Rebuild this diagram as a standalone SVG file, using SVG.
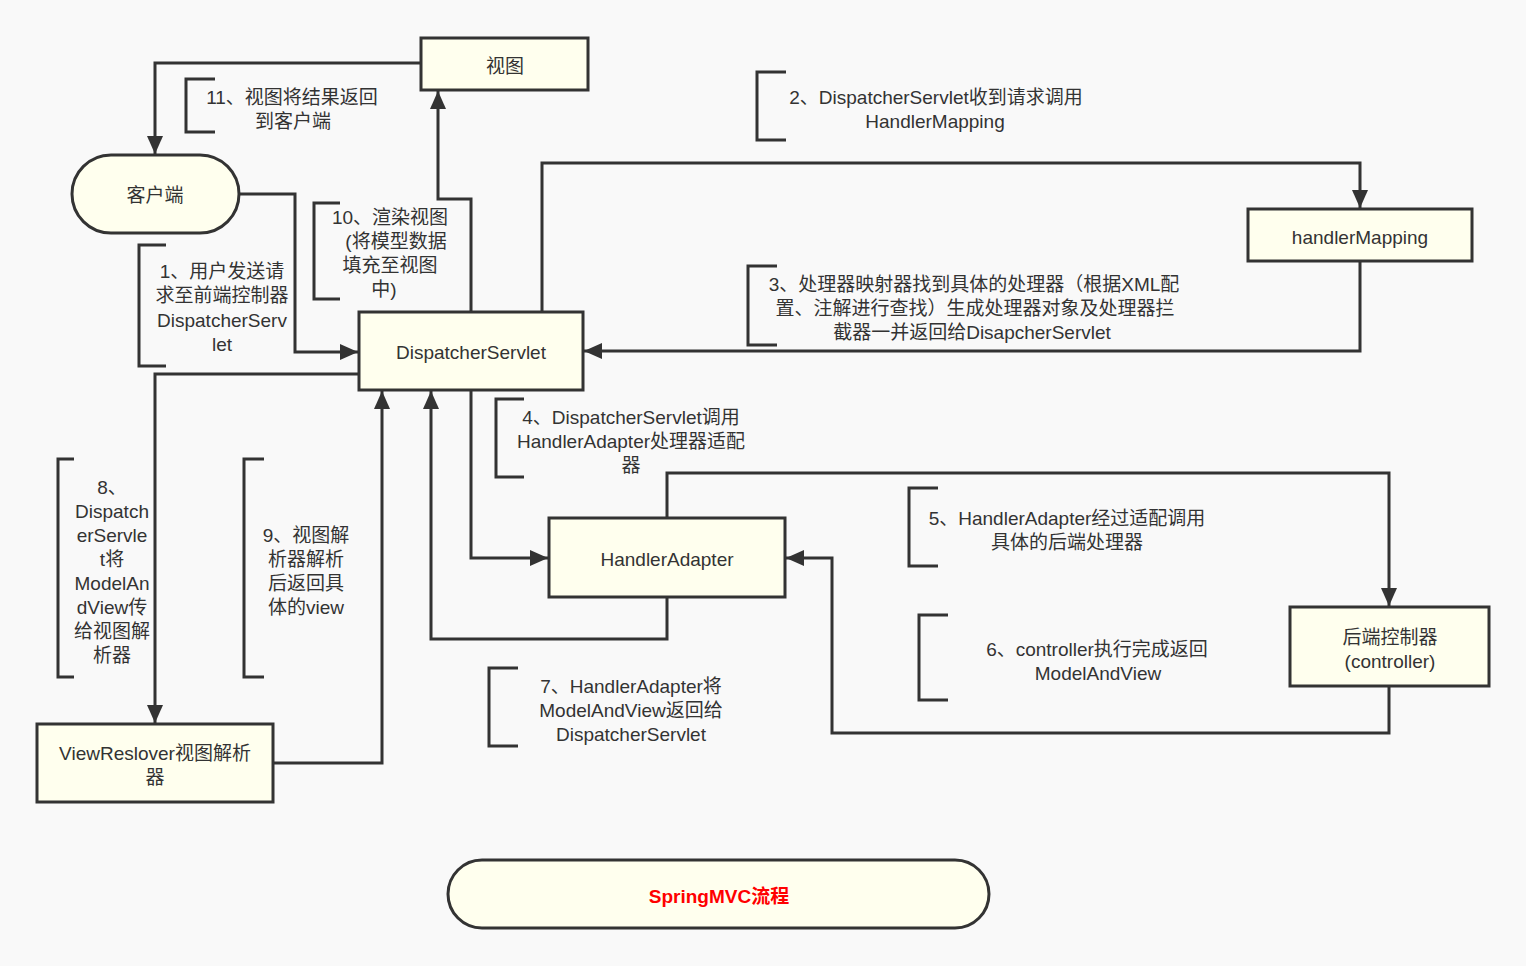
<svg xmlns="http://www.w3.org/2000/svg" width="1526" height="966" viewBox="0 0 1526 966">
<defs>
<style>
.bg{fill:#f9f9f9}
.node{fill:#ffffee;stroke:#333333;stroke-width:3}
.edge{fill:none;stroke:#333333;stroke-width:3;stroke-linejoin:miter}
.brk{fill:none;stroke:#333333;stroke-width:3}
text{font-family:"Liberation Sans","Noto Sans CJK SC",sans-serif;font-size:19px;fill:#333333;text-anchor:middle}
.title{font-weight:bold;fill:#ff0000}
</style>
<marker id="arr" markerUnits="userSpaceOnUse" markerWidth="18" markerHeight="16" refX="18" refY="8" orient="auto" viewBox="0 0 18 16">
<path d="M0,0 L18,8 L0,16 Z" fill="#333333"/>
</marker>
</defs>
<rect class="bg" x="0" y="0" width="1526" height="966"/>

<g id="connectors">
<path class="edge" d="M239,194 H295 V352 H358" marker-end="url(#arr)"/>
<path class="edge" d="M542,312 V163 H1360 V208" marker-end="url(#arr)"/>
<path class="edge" d="M1360,261 V351 H584" marker-end="url(#arr)"/>
<path class="edge" d="M471,390 V558 H548" marker-end="url(#arr)"/>
<path class="edge" d="M667,518 V473 H1389 V606" marker-end="url(#arr)"/>
<path class="edge" d="M1389,686 V733 H832 V558 H786" marker-end="url(#arr)"/>
<path class="edge" d="M667,597 V639 H431 V391" marker-end="url(#arr)"/>
<path class="edge" d="M359,374 H155 V723" marker-end="url(#arr)"/>
<path class="edge" d="M273,763 H382 V391" marker-end="url(#arr)"/>
<path class="edge" d="M471,312 V199 H438 V91" marker-end="url(#arr)"/>
<path class="edge" d="M421,63 H155 V154" marker-end="url(#arr)"/>
</g>

<g id="node-view">
<rect class="node" x="421" y="38" width="167" height="52"/>
<text x="505" y="73">视图</text>
</g>
<g id="node-client">
<rect class="node" x="72" y="155" width="167" height="78" rx="39" ry="39"/>
<text x="155" y="202">客户端</text>
</g>
<g id="node-dispatcher">
<rect class="node" x="359" y="312" width="224" height="78"/>
<text x="471" y="359">DispatcherServlet</text>
</g>
<g id="node-handlermapping">
<rect class="node" x="1248" y="209" width="224" height="52"/>
<text x="1360" y="244">handlerMapping</text>
</g>
<g id="node-handleradapter">
<rect class="node" x="549" y="518" width="236" height="79"/>
<text x="667" y="566">HandlerAdapter</text>
</g>
<g id="node-controller">
<rect class="node" x="1290" y="607" width="199" height="79"/>
<text x="1390" y="644">后端控制器</text>
<text x="1390" y="668">(controller)</text>
</g>
<g id="node-viewresolver">
<rect class="node" x="37" y="724" width="236" height="78"/>
<text x="155" y="760">ViewReslover视图解析</text>
<text x="155" y="784">器</text>
</g>
<g id="node-title">
<rect class="node" x="448" y="860" width="541" height="68" rx="34" ry="34"/>
<text class="title" x="719" y="903">SpringMVC流程</text>
</g>

<g id="note-1">
<path class="brk" d="M166,245 H139 V366 H166"/>
<text x="222" y="278">1、用户发送请</text>
<text x="222" y="302">求至前端控制器</text>
<text x="222" y="327">DispatcherServ</text>
<text x="222" y="351">let</text>
</g>
<g id="note-2">
<path class="brk" d="M786,72 H757 V140 H786"/>
<text x="936" y="104">2、DispatcherServlet收到请求调用</text>
<text x="935" y="128">HandlerMapping</text>
</g>
<g id="note-3">
<path class="brk" d="M777,266 H748 V345 H777"/>
<text x="974" y="291">3、处理器映射器找到具体的处理器（根据XML配</text>
<text x="975" y="315">置、注解进行查找）生成处理器对象及处理器拦</text>
<text x="972" y="339">截器一并返回给DisapcherServlet</text>
</g>
<g id="note-4">
<path class="brk" d="M524,399 H496 V477 H524"/>
<text x="631" y="424">4、DispatcherServlet调用</text>
<text x="631" y="448">HandlerAdapter处理器适配</text>
<text x="631" y="472">器</text>
</g>
<g id="note-5">
<path class="brk" d="M938,488 H909 V566 H938"/>
<text x="1067" y="525">5、HandlerAdapter经过适配调用</text>
<text x="1067" y="549">具体的后端处理器</text>
</g>
<g id="note-6">
<path class="brk" d="M948,615 H919 V700 H948"/>
<text x="1097" y="656">6、controller执行完成返回</text>
<text x="1098" y="680">ModelAndView</text>
</g>
<g id="note-7">
<path class="brk" d="M518,668 H489 V746 H518"/>
<text x="631" y="693">7、HandlerAdapter将</text>
<text x="631" y="717">ModelAndView返回给</text>
<text x="631" y="741">DispatcherServlet</text>
</g>
<g id="note-8">
<path class="brk" d="M74,459 H58 V677 H74"/>
<text x="112" y="494">8、</text>
<text x="112" y="518">Dispatch</text>
<text x="112" y="542">erServle</text>
<text x="112" y="566">t将</text>
<text x="112" y="590">ModelAn</text>
<text x="112" y="614">dView传</text>
<text x="112" y="638">给视图解</text>
<text x="112" y="662">析器</text>
</g>
<g id="note-9">
<path class="brk" d="M264,459 H244 V677 H264"/>
<text x="306" y="542">9、视图解</text>
<text x="306" y="566">析器解析</text>
<text x="306" y="590">后返回具</text>
<text x="306" y="614">体的view</text>
</g>
<g id="note-10">
<path class="brk" d="M340,203 H314 V299 H340"/>
<text x="390" y="224">10、渲染视图</text>
<text x="396" y="248">(将模型数据</text>
<text x="390" y="272">填充至视图</text>
<text x="384" y="296">中)</text>
</g>
<g id="note-11">
<path class="brk" d="M215,79 H186 V132 H215"/>
<text x="292" y="104">11、视图将结果返回</text>
<text x="293" y="128">到客户端</text>
</g>
</svg>
